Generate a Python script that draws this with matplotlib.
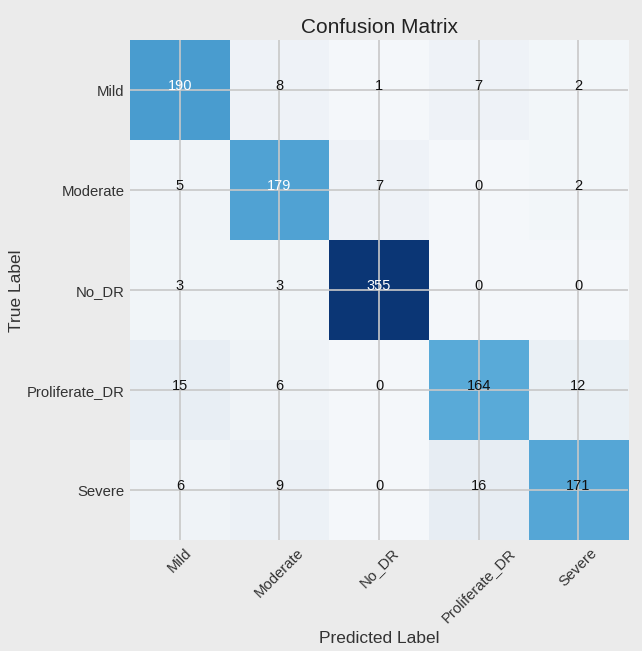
import matplotlib
matplotlib.use("Agg")
import matplotlib.pyplot as plt
from matplotlib.colors import LinearSegmentedColormap
import numpy as np

classes = ["Mild", "Moderate", "No_DR", "Proliferate_DR", "Severe"]
row_mild = [190, 8, 1, 7, 2]
row_moderate = [5, 179, 7, 0, 2]
row_nodr = [3, 3, 355, 0, 0]
row_prolif = [15, 6, 0, 164, 12]
row_severe = [6, 9, 0, 16, 171]

cm = np.array([row_mild, row_moderate, row_nodr, row_prolif, row_severe])

cmap = LinearSegmentedColormap.from_list(
    "blues_ref",
    [(0.0, '#f4f7fa'), (0.05, '#e5ecf3'), (0.3, '#a6cbe6'),
     (0.46, '#5aabd9'), (0.535, '#4a9dd0'), (0.75, '#2168b0'), (1.0, '#0b3675')])

plt.rcParams['font.family'] = ['Liberation Sans', 'DejaVu Sans']
bg = '#ebebeb'
fig = plt.figure(figsize=(6.42, 6.51), dpi=100, facecolor=bg)
ax = fig.add_axes([0.2025, 0.17, 0.776, 0.768])
ax.set_facecolor(bg)
ax.imshow(cm, interpolation='nearest', cmap=cmap, aspect='auto', vmin=0, vmax=cm.max())
ax.set_title("Confusion Matrix", fontsize=15, color='#222222', pad=5)
ticks = np.arange(len(classes))
ax.set_xticks(ticks)
ax.set_xticklabels(classes, rotation=45, fontsize=10.7, color='#333333')
ax.set_yticks(ticks)
ax.set_yticklabels(classes, fontsize=10.7, color='#333333')
ax.tick_params(length=0, pad=4)
for s in ax.spines.values():
    s.set_visible(False)
ax.grid(True, color='#c8c8c8', linewidth=1.2)
thresh = cm.max() / 2.
for i in range(cm.shape[0]):
    for j in range(cm.shape[1]):
        ax.text(j, i - 0.04, format(cm[i, j], 'd'), ha='center', va='center',
                fontsize=10.5, color='white' if cm[i, j] > thresh else '#111111')
ax.set_ylabel("True Label", fontsize=12.5, color='#333333', labelpad=2)
ax.set_xlabel("Predicted Label", fontsize=12.5, color='#333333', labelpad=4)
fig.savefig("out.png", dpi=100, facecolor=bg)
